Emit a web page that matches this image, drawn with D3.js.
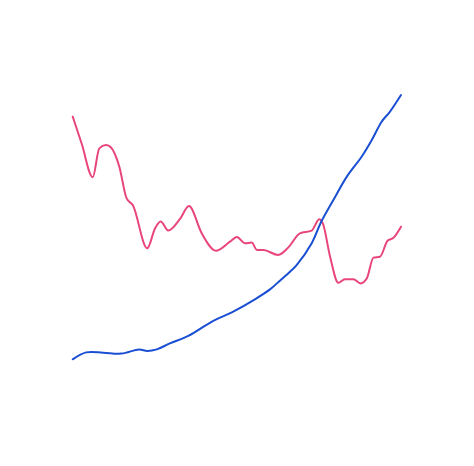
<!DOCTYPE html>
<html>
<head>
<meta charset="utf-8">
<script src="https://cdn.jsdelivr.net/npm/d3@7"></script>
<style>
html,body{margin:0;padding:0;background:#fff;}
</style>
</head>
<body>
<svg id="chart" width="474" height="466"></svg>
<script>
const pinkX = [0, 2.7, 6.1, 8.1, 10.1, 11.4, 14.2, 16.4, 18.3, 22.7, 25.1, 26.8, 29.1, 32.7, 35.4, 39.3, 43.6, 47.9, 50.0, 52.5, 54.5, 56.2, 58.1, 62.6, 65.7, 69.2, 72.8, 75.1, 76.2, 78.4, 80.9, 82.9, 85.5, 87.7, 89.6, 91.6, 93.6, 95.9, 97.7, 100];
const pinkY = [87.8, 78.9, 67.6, 77.2, 78.3, 77.8, 71.1, 60.6, 58.3, 43.9, 50.6, 52.8, 49.8, 53.7, 58.0, 48.9, 43.1, 46.1, 47.7, 45.6, 45.8, 43.3, 43.3, 41.7, 44.2, 48.9, 49.8, 53.6, 52.2, 41.1, 32.4, 33.6, 33.6, 32.2, 33.9, 40.8, 41.1, 46.4, 47.4, 51.1];
const blueX = [0, 4.1, 9.3, 14.9, 20.2, 22.7, 25.6, 29.6, 35.2, 42.3, 48.9, 55.5, 60.1, 63.1, 66.2, 68.2, 72.8, 75.6, 79.4, 83.5, 88.0, 91.1, 94.1, 96.6, 100];
const blueY = [6.9, 9.2, 9.1, 8.8, 10.2, 9.7, 10.2, 12.2, 14.7, 19.4, 22.8, 26.9, 30.2, 33.1, 36.1, 38.3, 45.6, 52.5, 60.0, 67.8, 74.4, 80.0, 86.1, 89.4, 95.0];

const svg = d3.select("#chart");
const x = d3.scaleLinear().domain([0, 100]).range([72.7, 401]);
const y = d3.scaleLinear().domain([0, 100]).range([380, 80]);

const linePink = d3.line()
  .x(d => x(d[0]))
  .y(d => y(d[1]))
  .curve(d3.curveMonotoneX);

const lineBlue = d3.line()
  .x(d => x(d[0]))
  .y(d => y(d[1]))
  .curve(d3.curveCatmullRom.alpha(0.5));

const pink = pinkX.map((v, i) => [v, pinkY[i]]);
const blue = blueX.map((v, i) => [v, blueY[i]]);

svg.append("path").datum(pink)
  .attr("d", linePink).attr("fill", "none")
  .attr("stroke", "#e8457b").attr("stroke-width", 2)
  .attr("stroke-linejoin", "round").attr("stroke-linecap", "round");

svg.append("path").datum(blue)
  .attr("d", lineBlue).attr("fill", "none")
  .attr("stroke", "#1a4fd4").attr("stroke-width", 2)
  .attr("stroke-linejoin", "round").attr("stroke-linecap", "round");
</script>
</body>
</html>
